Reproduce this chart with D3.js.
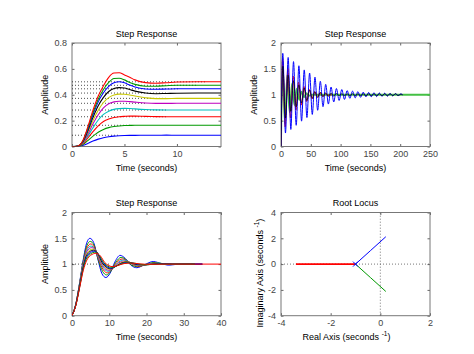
<!DOCTYPE html>
<html>
<head>
<meta charset="utf-8">
<script src="https://cdn.jsdelivr.net/npm/d3@7"></script>
<style>
body { margin: 0; background: #fff; }
svg text { font-family: "Liberation Sans", Arial, sans-serif; }
</style>
</head>
<body>
<div id="fig"></div>
<script>
// ---- top-left: step responses with different final values
var tlTime = [0, 0.5, 1, 1.5, 2, 2.5, 3, 3.5, 4, 4.5, 5, 5.5, 6, 7, 8, 9, 10, 12, 14.2];
var tlResp = [
  [0, 0.001, 0.007, 0.023, 0.042, 0.057, 0.068, 0.075, 0.080, 0.083, 0.085, 0.086, 0.086, 0.087, 0.087, 0.088, 0.087, 0.087, 0.087],
  [0, 0.001, 0.013, 0.045, 0.080, 0.110, 0.132, 0.146, 0.154, 0.159, 0.162, 0.163, 0.164, 0.164, 0.164, 0.164, 0.164, 0.164, 0.164],
  [0, 0.002, 0.018, 0.065, 0.115, 0.160, 0.193, 0.212, 0.224, 0.230, 0.233, 0.235, 0.235, 0.233, 0.231, 0.230, 0.230, 0.230, 0.230],
  [0, 0.002, 0.023, 0.080, 0.145, 0.205, 0.248, 0.273, 0.287, 0.293, 0.295, 0.294, 0.291, 0.286, 0.283, 0.282, 0.282, 0.282, 0.282],
  [0, 0.002, 0.027, 0.095, 0.175, 0.245, 0.298, 0.330, 0.345, 0.350, 0.350, 0.347, 0.343, 0.336, 0.333, 0.333, 0.334, 0.334, 0.334],
  [0, 0.002, 0.030, 0.110, 0.200, 0.280, 0.340, 0.378, 0.398, 0.405, 0.404, 0.398, 0.390, 0.377, 0.370, 0.370, 0.372, 0.372, 0.372],
  [0, 0.002, 0.032, 0.120, 0.225, 0.315, 0.380, 0.425, 0.448, 0.455, 0.452, 0.440, 0.428, 0.413, 0.408, 0.410, 0.412, 0.413, 0.413],
  [0, 0.002, 0.035, 0.130, 0.245, 0.345, 0.415, 0.465, 0.493, 0.500, 0.492, 0.475, 0.460, 0.445, 0.442, 0.444, 0.446, 0.446, 0.446],
  [0, 0.002, 0.038, 0.140, 0.260, 0.365, 0.440, 0.495, 0.525, 0.528, 0.515, 0.495, 0.480, 0.466, 0.466, 0.470, 0.473, 0.473, 0.473],
  [0, 0.002, 0.040, 0.150, 0.280, 0.390, 0.470, 0.535, 0.568, 0.570, 0.553, 0.535, 0.515, 0.494, 0.489, 0.493, 0.498, 0.500, 0.500]
];
var tlFinal = [0.087, 0.164, 0.23, 0.282, 0.334, 0.372, 0.413, 0.446, 0.473, 0.5];
var tlDotEnd = [4.5, 5.5, 9, 9, 7, 9, 9, 10.2, 11.9, 12.8];
var tlXTicks = [0, 5, 10], tlYTicks = [0, 0.2, 0.4, 0.6, 0.8];

// ---- top-right: lightly damped step responses
var trBlue = [[0,0],[3,1.80],[7.5,0.26],[12,1.72],[16.5,0.33],[21,1.64],[25.5,0.41],[30,1.56],[34.5,0.49],[39,1.48],
  [43.5,0.56],[48,1.42],[52.5,0.62],[57,1.34],[61.5,0.70],[66,1.26],[70.5,0.77],[75,1.20],[79.5,0.82],[84,1.15],
  [88.5,0.86],[93,1.12],[97.5,0.89],[102,1.10],[106.5,0.91],[111,1.08],[115.5,0.93],[120,1.07],[124.5,0.94],[129,1.06],
  [133.5,0.95],[138,1.05],[142.5,0.96],[147,1.045],[151.5,0.96],[156,1.04],[160.5,0.965],[165,1.035],[169.5,0.97],
  [174,1.03],[178.5,0.975],[183,1.025],[187.5,0.98],[192,1.02],[196.5,0.985],[201,1.015],[204,1.0]];
var trRed = [[0,0],[2.8,1.70],[7,0.38],[11.5,1.52],[16,0.55],[20.5,1.36],[25,0.70],[29.5,1.24],[34,0.80],[38.5,1.16],
  [43,0.87],[47.5,1.10],[52,0.92],[56.5,1.06],[61,0.95],[65.5,1.04],[70,0.97],[74.5,1.02],[79,0.99],[85,1.0]];
var trBlack = [[0,0],[3.2,1.55],[7.5,0.55],[12,1.38],[16.5,0.68],[21,1.27],[25.5,0.77],[30,1.19],[34.5,0.84],[39,1.13],
  [43.5,0.89],[48,1.09],[52.5,0.93],[57,1.06],[61.5,0.95],[66,1.045],[70.5,0.96],[75,1.035],[79.5,0.97],[84,1.03],
  [88.5,0.975],[93,1.025],[97.5,0.98],[102,1.02],[106.5,0.98],[111,1.02],[115.5,0.98],[120,1.02],[124.5,0.98],
  [129,1.02],[133.5,0.98],[138,1.02],[142.5,0.98],[147,1.02],[151.5,0.98],[156,1.02],[160.5,0.98],[165,1.02],
  [169.5,0.98],[174,1.02],[178.5,0.98],[183,1.02],[187.5,0.98],[192,1.02],[196.5,0.985],[201,1.01],[204,1.0]];
var trGreen = [[0,0],[2.5,1.65],[6.5,0.45],[10.5,1.38],[14.5,0.66],[18.5,1.22],[22.5,0.80],[26.5,1.12],[30.5,0.90],
  [34.5,1.06],[38.5,0.95],[42.5,1.03],[46.5,0.98],[52,1.0],[250,1.0]];
var trXTicks = [0, 50, 100, 150, 200, 250], trYTicks = [0, 0.5, 1, 1.5, 2];

// ---- bottom-left: step responses, final value 1
var blResp = [
  [[0,0],[1,0.22],[2,0.62],[3,1.08],[4,1.42],[4.8,1.50],[5.8,1.42],[7,1.08],[8,0.82],[9.1,0.74],[10.2,0.82],[11.5,1.04],[12.9,1.17],[14.3,1.11],[15.8,0.98],[17.4,0.93],[19.5,0.99],[21.8,1.05],[24,1.01],[26,0.98],[28.5,1.0],[30.5,1.01],[33,1.0],[35,1.0]],
  [[0,0],[1,0.22],[2,0.61],[3,1.05],[4,1.36],[4.9,1.44],[5.9,1.37],[7.1,1.07],[8.2,0.86],[9.3,0.79],[10.4,0.86],[11.7,1.03],[13.2,1.13],[14.6,1.08],[16,0.98],[17.6,0.95],[19.7,0.99],[22,1.03],[24.3,1.01],[26.5,0.99],[29,1.0],[33,1.0]],
  [[0,0],[1,0.21],[2,0.60],[3,1.02],[4,1.31],[5,1.39],[6,1.33],[7.3,1.06],[8.4,0.89],[9.5,0.83],[10.6,0.89],[12,1.03],[13.5,1.10],[14.9,1.06],[16.3,0.99],[18,0.96],[20,0.99],[22.5,1.02],[25,1.0],[32,1.0]],
  [[0,0],[1,0.21],[2,0.59],[3,1.00],[4,1.27],[5.1,1.35],[6.2,1.29],[7.5,1.05],[8.6,0.91],[9.7,0.86],[10.8,0.91],[12.2,1.02],[13.8,1.08],[15.2,1.05],[16.6,0.99],[18.3,0.97],[20.5,0.995],[23,1.02],[25.5,1.0],[32,1.0]],
  [[0,0],[1,0.21],[2,0.58],[3,0.98],[4,1.24],[5.3,1.32],[6.4,1.26],[7.7,1.04],[8.8,0.92],[9.9,0.88],[11,0.92],[12.5,1.02],[14,1.06],[15.4,1.04],[16.9,0.99],[18.6,0.98],[21,1.0],[23.5,1.01],[26,1.0],[32,1.0]],
  [[0,0],[1,0.20],[2,0.57],[3,0.96],[4,1.21],[5.5,1.29],[6.6,1.24],[7.9,1.04],[9,0.93],[10.1,0.90],[11.2,0.93],[12.7,1.01],[14.3,1.05],[15.7,1.03],[17.2,0.99],[19,0.98],[21.5,1.0],[24,1.01],[26.5,1.0],[32,1.0]],
  [[0,0],[1,0.20],[2,0.56],[3,0.94],[4,1.18],[5.7,1.27],[6.8,1.22],[8.1,1.03],[9.2,0.94],[10.3,0.91],[11.4,0.94],[13,1.01],[14.6,1.04],[16,1.02],[17.6,0.99],[19.5,0.985],[22,1.0],[24.5,1.01],[27,1.0],[35,1.0]],
  [[0,0],[1,0.20],[2,0.55],[3,0.92],[4,1.15],[5.9,1.25],[7,1.20],[8.3,1.03],[9.4,0.95],[10.5,0.92],[11.6,0.95],[13.3,1.01],[15,1.03],[16.4,1.02],[18,0.99],[20,0.99],[22.5,1.0],[25,1.005],[28,1.0],[35,1.0]],
  [[0,0],[1,0.20],[2,0.54],[3,0.90],[4,1.12],[6.1,1.23],[7.2,1.18],[8.5,1.03],[9.6,0.96],[10.7,0.935],[11.8,0.96],[13.6,1.01],[15.5,1.025],[17,1.015],[18.5,0.995],[20.5,0.99],[23,1.0],[28,1.0],[33,1.0]],
  [[0,0],[1,0.19],[2,0.52],[3,0.87],[4,1.08],[5,1.17],[6.5,1.21],[7.6,1.16],[8.8,1.03],[9.9,0.97],[11,0.95],[12.2,0.97],[14,1.01],[16,1.02],[18,1.005],[21,0.995],[25,1.0],[40,1.0]]
];
var blRefEnd = 10;
var blXTicks = [0, 10, 20, 30, 40], blYTicks = [0, 0.5, 1, 1.5, 2];

// ---- bottom-right: root locus
var rlPoles = [[-1, 0]];
var rlRed = [[-3.4, 0], [-2.2, 0], [-1, 0]];
var rlBlue = [[-1, 0], [-0.4, 1.04], [0.22, 2.12]];
var rlGreen = [[-1, 0], [-0.4, -1.04], [0.22, -2.12]];
var rlXTicks = [-4, -2, 0, 2], rlYTicks = [-4, -2, 0, 2, 4];

var COL = {b: "#0000ff", g: "#009900", r: "#ff0000", c: "#00bfbf", m: "#bf00bf", y: "#c8c800", k: "#000000"};
var cycle = ["b", "g", "r", "c", "m", "y", "k", "b", "g", "r"];

var svg = d3.select("#fig").append("svg").attr("width", 474).attr("height", 354);

var clipId = 0;
function makeAxes(box, xDom, yDom, xTicks, yTicks, title, xlab, ylab, ylabOff, labShift) {
  var x = d3.scaleLinear().domain(xDom).range([box.x0, box.x1]);
  var y = d3.scaleLinear().domain(yDom).range([box.y1, box.y0]);
  var g = svg.append("g");
  var fmt = function(d) { return String(d); };
  var tl = 2.5;

  g.append("g").attr("transform", "translate(0," + box.y1 + ")")
    .call(d3.axisBottom(x).tickValues(xTicks).tickFormat(fmt).tickSize(-tl).tickPadding(4));
  g.append("g").attr("transform", "translate(0," + box.y0 + ")")
    .call(d3.axisTop(x).tickValues(xTicks).tickFormat("").tickSize(-tl));
  g.append("g").attr("transform", "translate(" + box.x0 + ",0)")
    .call(d3.axisLeft(y).tickValues(yTicks).tickFormat(fmt).tickSize(-tl).tickPadding(5));
  g.append("g").attr("transform", "translate(" + box.x1 + ",0)")
    .call(d3.axisRight(y).tickValues(yTicks).tickFormat("").tickSize(-tl));
  g.selectAll(".domain").remove();
  g.selectAll(".tick line").attr("stroke", "#666");
  g.selectAll(".tick text").attr("font-size", 9).attr("fill", "#444")
    .attr("font-family", "'Liberation Sans', Arial, sans-serif");

  g.append("rect").attr("x", box.x0).attr("y", box.y0)
    .attr("width", box.x1 - box.x0).attr("height", box.y1 - box.y0)
    .attr("fill", "none").attr("stroke", "#777").attr("stroke-width", 1);

  var cx = (box.x0 + box.x1) / 2, cy = (box.y0 + box.y1) / 2;
  g.append("text").attr("x", cx).attr("y", box.y0 - 6.5).attr("text-anchor", "middle")
    .attr("font-size", 9).attr("fill", "#000").text(title);

  var xt = g.append("text").attr("x", cx - labShift).attr("y", box.y1 + 24.5)
    .attr("text-anchor", "middle").attr("font-size", 9).attr("fill", "#000");
  addParts(xt, xlab);
  var yt = g.append("text").attr("transform", "translate(" + (box.x0 - ylabOff) + "," + (cy + labShift) + ") rotate(-90)")
    .attr("dy", "0.35em").attr("text-anchor", "middle").attr("font-size", 9).attr("fill", "#000");
  addParts(yt, ylab);

  clipId++;
  svg.append("clipPath").attr("id", "clip" + clipId).append("rect")
    .attr("x", box.x0).attr("y", box.y0).attr("width", box.x1 - box.x0).attr("height", box.y1 - box.y0);
  var plot = svg.append("g").attr("clip-path", "url(#clip" + clipId + ")");
  return {x: x, y: y, plot: plot};
}

function addParts(t, parts) {
  parts.forEach(function(p) {
    var s = t.append("tspan").text(p[0]);
    if (p[1]) s.attr("font-size", 6.5).attr("dy", "-0.6em");
    else if (p[2]) s.attr("dy", "0.4em");
  });
}

function lineFor(ax) {
  return d3.line().x(function(d) { return ax.x(d[0]); }).y(function(d) { return ax.y(d[1]); })
    .curve(d3.curveMonotoneX);
}

var L = {x0: 72, x1: 221}, R = {x0: 281, x1: 430};
var T = {y0: 43, y1: 146.5}, B = {y0: 212.5, y1: 315.7};

// top-left
var a1 = makeAxes({x0: L.x0, x1: L.x1, y0: T.y0, y1: T.y1}, [0, 14.2], [0, 0.8], tlXTicks, tlYTicks,
  "Step Response", [["Time (seconds)"]], [["Amplitude"]], 27, 0);
var ln1 = lineFor(a1);
tlFinal.forEach(function(v, i) {
  a1.plot.append("line").attr("x1", a1.x(0)).attr("x2", a1.x(tlDotEnd[i]))
    .attr("y1", a1.y(v)).attr("y2", a1.y(v))
    .attr("stroke", "#000").attr("stroke-width", 0.7).attr("stroke-dasharray", "1,2");
});
tlResp.forEach(function(vals, i) {
  a1.plot.append("path").datum(vals.map(function(v, j) { return [tlTime[j], v]; }))
    .attr("d", ln1).attr("fill", "none").attr("stroke", COL[cycle[i]]).attr("stroke-width", 1.1);
});

// top-right (green first so the others sit on top of it)
var a2 = makeAxes({x0: R.x0, x1: R.x1, y0: T.y0, y1: T.y1}, [0, 250], [0, 2], trXTicks, trYTicks,
  "Step Response", [["Time (seconds)"]], [["Amplitude"]], 27, 0);
var ln2 = lineFor(a2);
[[trGreen, "#44c044", 1.8], [trRed, "#ff0000", 1], [trBlue, "#0000ff", 1], [trBlack, "#000000", 0.7]].forEach(function(s) {
  a2.plot.append("path").datum(s[0]).attr("d", ln2).attr("fill", "none")
    .attr("stroke", s[1]).attr("stroke-width", s[2]);
});

// bottom-left
var a3 = makeAxes({x0: L.x0, x1: L.x1, y0: B.y0, y1: B.y1}, [0, 40], [0, 2], blXTicks, blYTicks,
  "Step Response", [["Time (seconds)"]], [["Amplitude"]], 27, 0);
var ln3 = lineFor(a3);
a3.plot.append("line").attr("x1", a3.x(0)).attr("x2", a3.x(blRefEnd))
  .attr("y1", a3.y(1)).attr("y2", a3.y(1))
  .attr("stroke", "#000").attr("stroke-width", 0.7).attr("stroke-dasharray", "1,2");
blResp.forEach(function(pts, i) {
  a3.plot.append("path").datum(pts).attr("d", ln3).attr("fill", "none")
    .attr("stroke", COL[cycle[i]]).attr("stroke-width", 1);
});

// bottom-right
var a4 = makeAxes({x0: R.x0, x1: R.x1, y0: B.y0, y1: B.y1}, [-4, 2], [-4, 4], rlXTicks, rlYTicks,
  "Root Locus", [["Real Axis (seconds "], ["-1", true], [")", false, true]],
  [["Imaginary Axis (seconds "], ["-1", true], [")", false, true]], 21, 9);
a4.plot.append("line").attr("x1", a4.x(0)).attr("x2", a4.x(0)).attr("y1", a4.y(-4)).attr("y2", a4.y(4))
  .attr("stroke", "#555").attr("stroke-width", 0.8).attr("stroke-dasharray", "1,2");
a4.plot.append("line").attr("x1", a4.x(-4)).attr("x2", a4.x(2)).attr("y1", a4.y(0)).attr("y2", a4.y(0))
  .attr("stroke", "#555").attr("stroke-width", 0.8).attr("stroke-dasharray", "1,2");
var ln4 = d3.line().x(function(d) { return a4.x(d[0]); }).y(function(d) { return a4.y(d[1]); });
[[rlRed, "r", 1.6], [rlBlue, "b", 1], [rlGreen, "g", 1]].forEach(function(s) {
  a4.plot.append("path").datum(s[0]).attr("d", ln4).attr("fill", "none")
    .attr("stroke", COL[s[1]]).attr("stroke-width", s[2]);
});
rlPoles.forEach(function(p) {
  var px = a4.x(p[0]), py = a4.y(p[1]), s = 2.5;
  a4.plot.append("path").attr("d", "M" + (px - s) + "," + (py - s) + "L" + (px + s) + "," + (py + s) +
    "M" + (px - s) + "," + (py + s) + "L" + (px + s) + "," + (py - s))
    .attr("stroke", "#0000ff").attr("stroke-width", 1);
});
</script>
</body>
</html>
